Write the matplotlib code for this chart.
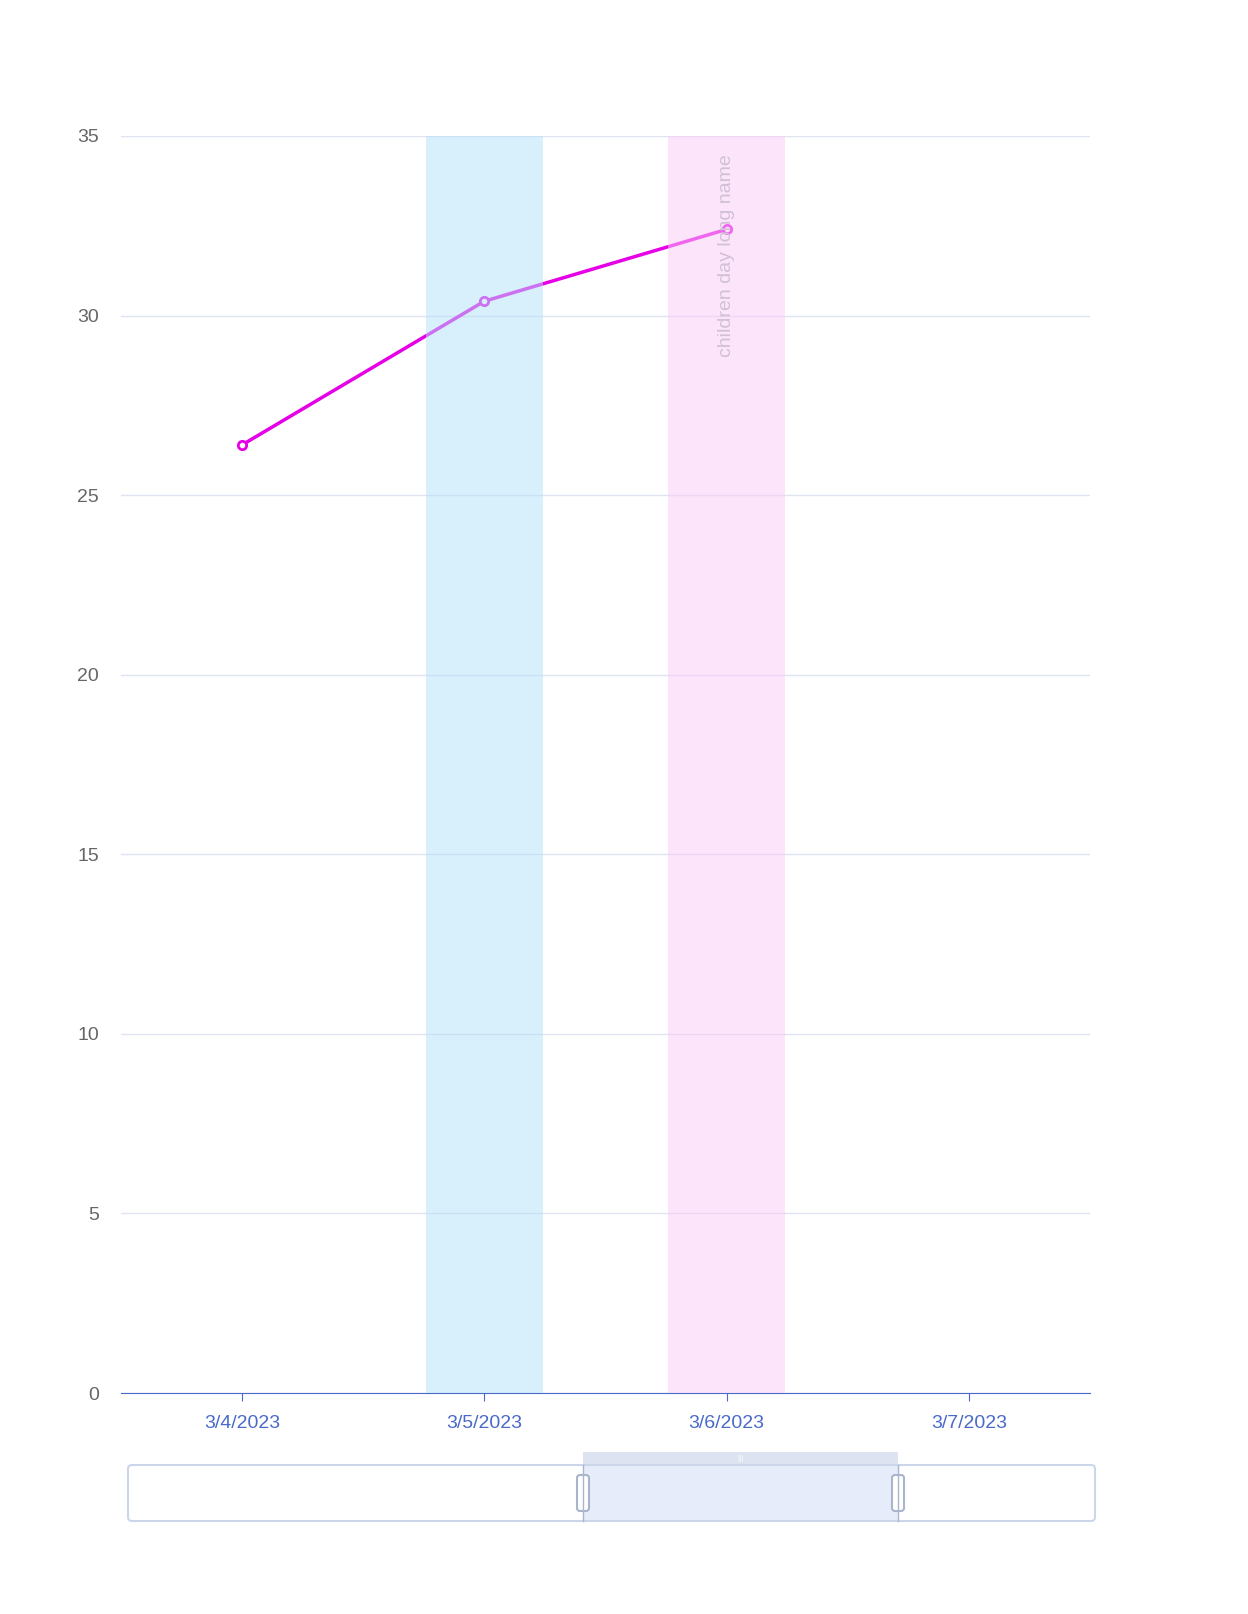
import matplotlib.pyplot as plt
import matplotlib.patches as mpatches

plt.rcParams['font.family'] = ['Liberation Sans', 'DejaVu Sans']

dates = ['3/4/2023', '3/5/2023', '3/6/2023', '3/7/2023']
values = [26.4, 30.4, 32.4]
bands = [(1, '#b3e3fb'), (2, '#fbcdf7')]
band_label = 'children day long name'

W, H = 1248, 1614
fig = plt.figure(figsize=(W / 100, H / 100), dpi=100)
ax = fig.add_axes([121 / W, 1 - 1393 / H, (1090 - 121) / W, (1393 - 136) / H])

ax.plot(range(len(values)), values, color='#e600e6', lw=2.5, marker='o', ms=6,
        mfc='white', mec='#e600e6', mew=2, zorder=2)
for x, c in bands:
    ax.axvspan(x - 0.24, x + 0.24, color=c, alpha=0.5, lw=0, zorder=3)
ax.text(2, 34.5, band_label, rotation=90, ha='center', va='top', fontsize=14,
        color='#d0c0d8', zorder=4)

ax.set_xlim(-0.5, 3.5)
ax.set_ylim(0, 35)
ax.set_yticks(range(0, 36, 5))
ax.set_xticks(range(len(dates)))
ax.set_xticklabels(dates)
ax.grid(axis='y', color='#e0e4f0', lw=1)
ax.set_axisbelow(True)
for s in ['top', 'right', 'left']:
    ax.spines[s].set_visible(False)
ax.spines['bottom'].set_color('#4a6acb')
ax.tick_params(axis='y', length=0, labelsize=14, labelcolor='#666666', pad=16)
ax.tick_params(axis='x', length=6, color='#4a6acb', labelsize=14, labelcolor='#4a6acb', pad=10)

# data zoom slider
sl = fig.add_axes([0, 0, 1, 1])
sl.set_xlim(0, W)
sl.set_ylim(H, 0)
sl.axis('off')
sl.add_patch(mpatches.Rectangle((583, 1452), 315, 13, color='#dde3f0', lw=0))
sl.add_patch(mpatches.Rectangle((583, 1465), 315, 56, color='#e6ecfa', lw=0))
sl.add_patch(mpatches.FancyBboxPatch((128, 1465), 967, 56, boxstyle='round,pad=0,rounding_size=4',
                                     fc='none', ec='#ccd6eb', lw=1.5))
sl.plot([583, 583], [1465, 1521], color='#aab5cc', lw=1)
sl.plot([898, 898], [1465, 1521], color='#aab5cc', lw=1)
for hx in [583, 898]:
    sl.add_patch(mpatches.FancyBboxPatch((hx - 6, 1475), 12, 36, boxstyle='round,pad=0,rounding_size=3',
                                         fc='white', ec='#aab5cc', lw=1.5))
sl.text(740, 1458, '|||', ha='center', va='center', fontsize=6, color='white')

fig.savefig('out.png', dpi=100)
